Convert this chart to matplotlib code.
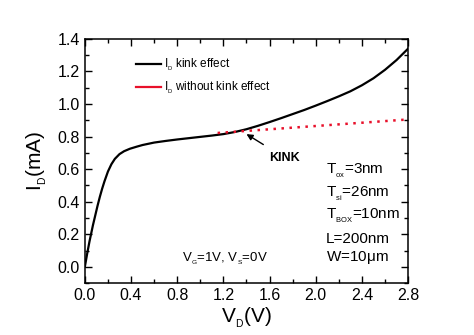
import numpy as np
import matplotlib
matplotlib.use("Agg")
import matplotlib.pyplot as plt
from matplotlib.lines import Line2D

plt.rcParams['font.family'] = ['Liberation Sans', 'DejaVu Sans']
plt.rcParams['mathtext.fontset'] = 'custom'
plt.rcParams['mathtext.rm'] = 'Liberation Sans'
plt.rcParams['mathtext.it'] = 'Liberation Sans'

# I_D - V_D with kink effect
vd_kink = [0.0, 0.02, 0.04, 0.07, 0.09, 0.11, 0.13, 0.15, 0.17, 0.20, 0.23, 0.26,
           0.30, 0.34, 0.39, 0.45, 0.50, 0.60, 0.70, 0.80, 0.90, 1.00, 1.10, 1.20,
           1.30, 1.40, 1.50, 1.60, 1.70, 1.80, 1.90, 2.00, 2.10, 2.20, 2.30, 2.40,
           2.50, 2.60, 2.70, 2.80]
id_kink = [0.0, 0.08, 0.155, 0.255, 0.315, 0.375, 0.43, 0.48, 0.525, 0.585, 0.63, 0.663,
           0.692, 0.71, 0.725, 0.738, 0.748, 0.763, 0.773, 0.782, 0.79, 0.798, 0.806, 0.815,
           0.828, 0.845, 0.866, 0.889, 0.913, 0.938, 0.963, 0.99, 1.018, 1.047, 1.078, 1.115,
           1.158, 1.21, 1.27, 1.34]

# without kink effect
vd_nokink = [1.15, 2.80]
id_nokink = [0.822, 0.905]

params = [r'T$_{_\mathrm{ox}}$=3nm', r'T$_{_\mathrm{si}}$=26nm', r'T$_{_\mathrm{BOX}}$=10nm',
          'L=200nm', r'W=10$\mu$m']
legend_labels = [r'I$_{_\mathrm{D}}$ kink effect', r'I$_{_\mathrm{D}}$ without kink effect']

red = '#e8102a'

fig = plt.figure(figsize=(4.74, 3.35), dpi=100)
ax = fig.add_axes([0.179, 0.155, 0.682, 0.729])

ax.plot(vd_kink, id_kink, color='black', lw=1.6)
ax.plot(vd_nokink, id_nokink, color=red, lw=1.8, linestyle=(0, (1, 2.2)))

ax.set_xlim(0, 2.8)
ax.set_ylim(-0.1, 1.4)
ax.set_xticks(np.arange(0, 2.81, 0.4))
ax.set_yticks(np.arange(0, 1.41, 0.2))
ax.set_xticks(np.arange(0.2, 2.8, 0.4), minor=True)
ax.set_yticks(np.arange(-0.1, 1.4, 0.2), minor=True)
ax.tick_params(which='both', direction='in', top=True, right=True, width=1)
ax.tick_params(which='major', length=5, labelsize=11.5)
ax.tick_params(which='minor', length=3)
for s in ax.spines.values():
    s.set_linewidth(1.1)

ax.set_xlabel(r'V$_{_\mathrm{D}}$(V)', fontsize=15, labelpad=2)
ax.set_ylabel(r'I$_{_\mathrm{D}}$(mA)', fontsize=15, labelpad=6)

handles = [Line2D([], [], color='black', lw=1.6), Line2D([], [], color=red, lw=1.6)]
ax.legend(handles, legend_labels, loc='upper left', bbox_to_anchor=(0.125, 0.97),
          frameon=False, fontsize=8.5, handlelength=2.1, handletextpad=0.3,
          labelspacing=0.55)

ax.annotate('KINK', xy=(1.40, 0.815), xytext=(1.73, 0.67), fontsize=9,
            fontweight='bold', ha='center', va='center',
            arrowprops=dict(arrowstyle='-|>', color='black', lw=1, mutation_scale=9,
                            shrinkB=0, shrinkA=6))

ys = [0.586, 0.45, 0.315, 0.173, 0.056]
for t, y in zip(params, ys):
    ax.text(2.09, y, t, fontsize=11, ha='left', va='center')

ax.text(1.21, 0.05, r'V$_{_\mathrm{G}}$=1V, V$_{_\mathrm{S}}$=0V', fontsize=9.5,
        ha='center', va='center')

fig.savefig('out.png', dpi=100)
